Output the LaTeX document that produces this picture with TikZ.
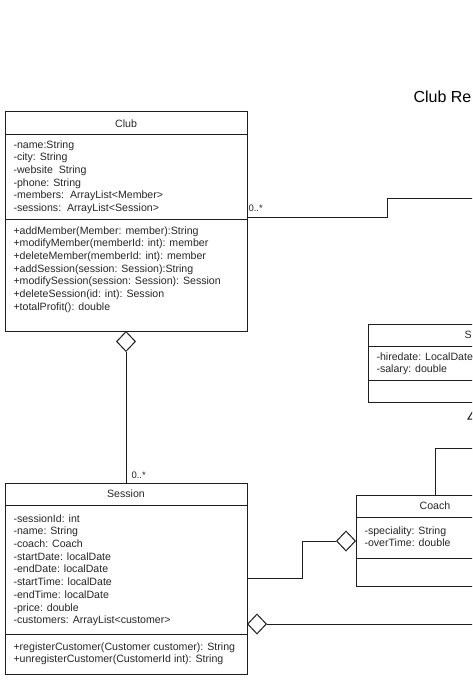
\documentclass[tikz,border=0pt]{standalone}
\usepackage{fontspec}
\setmainfont{Liberation Sans}
\usetikzlibrary{shapes.geometric}
\definecolor{ink}{HTML}{1E1E1E}
\definecolor{textgray}{HTML}{262626}

\begin{document}
\begin{tikzpicture}[x=1pt, y=-1pt, line width=1pt,
  classline/.style={draw=ink},
  classname/.style={text=textgray, inner sep=0pt, font=\fontsize{10.6}{12.7}\selectfont},
  members/.style={anchor=north west, align=left, inner sep=0pt, text=textgray, font=\fontsize{10.6}{12.7}\selectfont},
  mult/.style={anchor=west, inner sep=0pt, text=textgray, font=\fontsize{9.5}{11}\selectfont},
  agg/.style={diamond, draw=ink, fill=white, minimum width=19pt, minimum height=20pt, inner sep=0pt}]
\useasboundingbox (0,0) rectangle (472,700);
\clip (0,0) rectangle (472,700);

% Title of the diagram
\node[anchor=west, inner sep=0pt, font=\fontsize{16}{18}\selectfont] (title) at (413,97) {Club Re};

% Club class
\draw[classline] (5,112) rectangle (247,331);
\draw[classline] (5,135) -- (247,135);
\draw[classline] (5,220) -- (247,220);
\node[classname] (clubname) at (126,123.5) {Club};
\node[members] (clubattr) at (13,140) {
    -name:String\\
    -city: String\\
    -website\ \ String\\
    -phone: String\\
    -members:\ \ ArrayList<Member>\\
    -sessions:\ \ ArrayList<Session>
};
\node[members] (clubops) at (13,226) {
    +addMember(Member: member):String\\
    +modifyMember(memberId: int): member\\
    +deleteMember(memberId: int): member\\
    +addSession(session: Session):String\\
    +modifySession(session: Session): Session\\
    +deleteSession(id: int): Session\\
    +totalProfit(): double
};

% Session class
\draw[classline] (5,483) rectangle (247,674);
\draw[classline] (5,505) -- (247,505);
\draw[classline] (5,634) -- (247,634);
\node[classname] (sessionname) at (126,493.5) {Session};
\node[members] (sessionattr) at (13,514) {
    -sessionId: int\\
    -name: String\\
    -coach: Coach\\
    -startDate: localDate\\
    -endDate: localDate\\
    -startTime: localDate\\
    -endTime: localDate\\
    -price: double\\
    -customers: ArrayList<customer>
};
\node[members] (sessionops) at (13,642) {
    +registerCustomer(Customer customer): String\\
    +unregisterCustomer(CustomerId int): String
};

% Staff class (cut by the right edge)
\draw[classline] (368,324) rectangle (560,402);
\draw[classline] (368,346) -- (560,346);
\draw[classline] (368,380) -- (560,380);
\node[classname, anchor=west] (staffname) at (464,335) {S};
\node[members] (staffattr) at (376,352) {
    -hiredate: LocalDate\\
    -salary: double
};

% Coach class (cut by the right edge)
\draw[classline] (356,495) rectangle (514,586);
\draw[classline] (356,517) -- (514,517);
\draw[classline] (356,558) -- (514,558);
\node[classname] (coachname) at (435,505.5) {Coach};
\node[members] (coachattr) at (364,526) {
    -speciality: String\\
    -overTime: double
};

% Anchor points of the connectors
\coordinate (clubout) at (247,218);
\coordinate (toright) at (480,199);
\coordinate (sessiontop) at (126,483);
\coordinate (sessionout) at (247,578);
\coordinate (coachtop) at (435,495);
\coordinate (staffbase) at (478,419);
\coordinate (customerin) at (480,624);

% Club to the right
\draw[ink] (clubout) -- ++(140,0) |- (toright);
\node[mult] (clubmult) at (248,208) {0..*};

% Club <>--- Session
\node[agg, anchor=north] (clubagg) at (126,331) {};
\draw[ink] (clubagg.south) -- (sessiontop);
\node[mult] (sessionmult) at (131,475) {0..*};

% Session ---<> Coach
\node[agg, anchor=east] (coachagg) at (356,541) {};
\draw[ink] (sessionout) -- ++(55,0) |- (coachagg.west);

% Session <>--- to the right
\node[agg, anchor=west] (sessionagg) at (247,624) {};
\draw[ink] (sessionagg.east) -- (customerin);

% Coach inherits from Staff
\draw[ink] (coachtop) -- ++(0,-47) -| (staffbase);
\draw[ink, fill=white] (staffbase) -- ++(-10,0) -- (478,403) -- ++(10,16) -- cycle;
\end{tikzpicture}
\end{document}
